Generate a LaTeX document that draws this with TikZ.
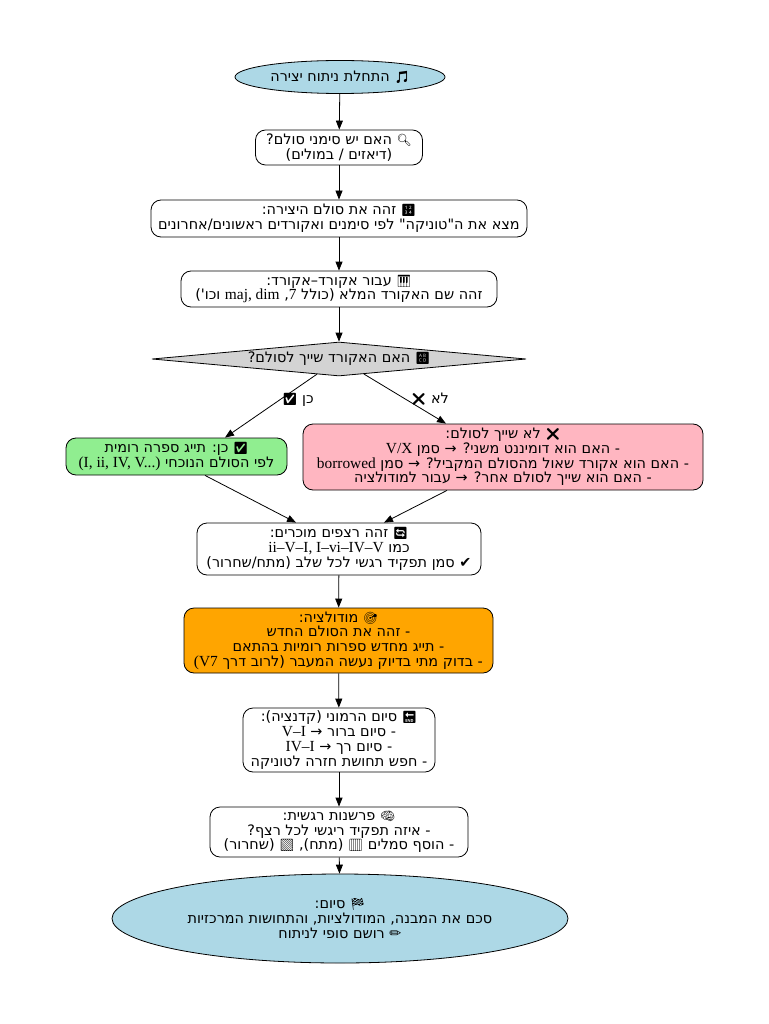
\documentclass[tikz,border=0pt]{standalone}
\usepackage{fontspec}
\setmainfont{Liberation Serif}
\newfontfamily\hebfont[Script=Hebrew]{DejaVu Sans}
\newfontfamily\emofont{Noto Emoji}
\TeXXeTstate=1
\usetikzlibrary{shapes.geometric, arrows.meta, positioning}

\definecolor{termblue}{HTML}{ADD8E6}
\definecolor{decgray}{HTML}{D3D3D3}
\definecolor{yesgreen}{HTML}{90EE90}
\definecolor{nopink}{HTML}{FFB6C1}
\definecolor{modorange}{HTML}{FFA500}

\newcommand{\rl}[1]{\beginR#1\endR}
\newcommand{\lat}[1]{\beginL{\rmfamily\fontsize{15.4}{14.7}\selectfont#1}\endL}
\newcommand{\emo}[1]{{\emofont\fontsize{12}{14.7}\selectfont#1}}

\tikzset{
    txt/.style={font=\hebfont\fontsize{14.4}{14.7}\selectfont, align=center},
    term/.style={txt, ellipse, draw, fill=termblue, inner sep=1pt},
    stepbox/.style={txt, draw, rounded corners=10pt, fill=white, inner sep=2pt},
    decision/.style={txt, diamond, draw, fill=decgray, aspect=11, inner sep=0pt},
}

\begin{document}
\begin{tikzpicture}[x=1pt, y=-1pt, >={Triangle[length=9pt, width=7pt]}, line width=0.8pt, line join=round]
    \useasboundingbox (0,0) rectangle (768,1024);

    \node[term, minimum width=210pt, minimum height=33pt] (start) at (340,77)
        {\rl{\emo{🎵} התחלת ניתוח יצירה}};
    \node[stepbox, minimum width=167pt, minimum height=35pt] (key) at (339,147.5)
        {\rl{\emo{🔍} האם יש סימני סולם?}\\ \rl{(דיאזים / במולים)}};
    \node[stepbox, minimum width=376pt, minimum height=37pt] (scale) at (339,218.5)
        {\rl{\emo{🔢} זהה את סולם היצירה:}\\ \rl{מצא את ה"טוניקה" לפי סימנים ואקורדים ראשונים/אחרונים}};
    \node[stepbox, minimum width=316pt, minimum height=36pt] (chord) at (339,289)
        {\rl{\emo{🎹} עבור אקורד–אקורד:}\\ \rl{זהה שם האקורד המלא (כולל \lat{7}, \lat{maj, dim} וכו')}};
    \node[decision, minimum width=374pt, minimum height=34pt] (dec) at (339,359)
        {\rl{\emo{🔠} האם האקורד שייך לסולם?}};

    % כן / לא
    \node[stepbox, fill=yesgreen, minimum width=221pt, minimum height=37pt] (yes) at (176.5,456.5)
        {\rl{\emo{✅} כן: תייג ספרה רומית}\\ \rl{לפי הסולם הנוכחי \lat{(I, ii, IV, V...)}}};
    \node[stepbox, fill=nopink, minimum width=400pt, minimum height=66pt] (no) at (503,457)
        {\rl{\emo{❌} לא שייך לסולם:}\\
         \rl{- האם הוא דומיננט משני? → סמן \lat{V/X}}\\
         \rl{- האם הוא אקורד שאול מהסולם המקביל? → סמן \lat{borrowed}}\\
         \rl{- האם הוא שייך לסולם אחר? → עבור למודולציה}};
    \node[txt] (lyes) at (298,400) {\rl{כן \emo{✅}}};
    \node[txt] (lno) at (430,399) {\rl{לא \emo{❌}}};

    \node[stepbox, minimum width=284pt, minimum height=52pt] (seq) at (339,549)
        {\rl{\emo{🔄} זהה רצפים מוכרים:}\\
         \rl{כמו \lat{ii–V–I, I–vi–IV–V}}\\
         \rl{✔ סמן תפקיד רגשי לכל שלב (מתח/שחרור)}};
    \node[stepbox, fill=modorange, minimum width=309pt, minimum height=65pt] (mod) at (338.5,640.5)
        {\rl{\emo{🎯} מודולציה:}\\
         \rl{- זהה את הסולם החדש}\\
         \rl{- תייג מחדש ספרות רומיות בהתאם}\\
         \rl{- בדוק מתי בדיוק נעשה המעבר (לרוב דרך \lat{(V7}}};
    \node[stepbox, minimum width=192pt, minimum height=64pt] (cad) at (339,740)
        {\rl{\emo{🔚} סיום הרמוני (קדנציה):}\\
         \rl{- סיום ברור → \lat{V–I}}\\
         \rl{- סיום רך → \lat{IV–I}}\\
         \rl{- חפש תחושת חזרה לטוניקה}};
    \node[stepbox, minimum width=258pt, minimum height=50pt] (emo) at (339,832)
        {\rl{\emo{🧠} פרשנות רגשית:}\\
         \rl{- איזה תפקיד ריגשי לכל רצף?}\\
         \rl{- הוסף סמלים \emo{🟥} (מתח), \emo{🟩} (שחרור)}};
    \node[term, minimum width=456pt, minimum height=89pt] (end) at (340,918.5)
        {\rl{\emo{🏁} סיום:}\\
         \rl{סכם את המבנה, המודולציות, והתחושות המרכזיות}\\
         \rl{✏ רושם סופי לניתוח}};

    % חיצים
    \draw[->] (start) -- (key);
    \draw[->] (key) -- (scale);
    \draw[->] (scale) -- (chord);
    \draw[->] (chord) -- (dec);
    \draw[->] (dec) -- ([xshift=48.5pt]yes.north);
    \draw[->] (dec) -- ([xshift=-57pt]no.north);
    \draw[->] ([xshift=28.5pt]yes.south) -- ([xshift=-43pt]seq.north);
    \draw[->] ([xshift=-56pt]no.south) -- ([xshift=45pt]seq.north);
    \draw[->] (seq) -- (mod);
    \draw[->] (mod) -- (cad);
    \draw[->] (cad) -- (emo);
    \draw[->] (emo) -- (end);
\end{tikzpicture}
\end{document}
